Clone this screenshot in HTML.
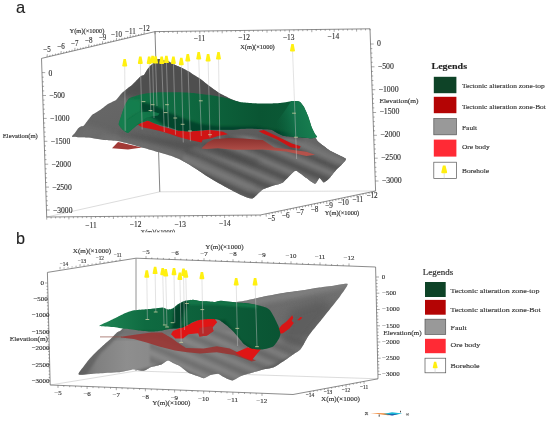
<!DOCTYPE html><html><head><meta charset="utf-8"><title>Figure</title>
<style>html,body{margin:0;padding:0;background:#fff}svg{display:block}text{font-family:"Liberation Serif",serif;fill:#333;stroke:#333;stroke-width:0.14px}</style></head><body>
<svg width="550" height="422" viewBox="0 0 550 422">
<defs>
<linearGradient id="gA" gradientUnits="userSpaceOnUse" x1="90" y1="70" x2="150" y2="200"><stop offset="0" stop-color="#6a6a6a"/><stop offset="0.5" stop-color="#636363"/><stop offset="1" stop-color="#5a5a5a"/></linearGradient>
<linearGradient id="gG" gradientUnits="userSpaceOnUse" x1="120" y1="0" x2="320" y2="0"><stop offset="0" stop-color="#117346"/><stop offset="0.35" stop-color="#0e683f"/><stop offset="0.7" stop-color="#0a5533"/><stop offset="1" stop-color="#0c5c38"/></linearGradient>
<linearGradient id="gGr" gradientUnits="userSpaceOnUse" x1="275" y1="120" x2="312" y2="112"><stop offset="0" stop-color="#0d6640" stop-opacity="0"/><stop offset="0.5" stop-color="#12724a"/><stop offset="1" stop-color="#187f50"/></linearGradient>
<linearGradient id="gGB" gradientUnits="userSpaceOnUse" x1="100" y1="0" x2="280" y2="0"><stop offset="0" stop-color="#1f8554"/><stop offset="0.25" stop-color="#0f6b41"/><stop offset="0.6" stop-color="#0c5f3a"/><stop offset="1" stop-color="#0a5433"/></linearGradient>
<linearGradient id="gB" gradientUnits="userSpaceOnUse" x1="78" y1="0" x2="350" y2="0"><stop offset="0" stop-color="#646464"/><stop offset="0.07" stop-color="#808080"/><stop offset="0.18" stop-color="#8e8e8e"/><stop offset="0.4" stop-color="#838383"/><stop offset="0.7" stop-color="#6c6c6c"/><stop offset="1" stop-color="#707070"/></linearGradient>
<linearGradient id="ridA" gradientUnits="userSpaceOnUse" x1="0" y1="0" x2="-5.8" y2="13.6" spreadMethod="repeat"><stop offset="0" stop-color="#7e7e7e"/><stop offset="0.5" stop-color="#4e4e4e"/><stop offset="1" stop-color="#7e7e7e"/></linearGradient>
<linearGradient id="ridB" gradientUnits="userSpaceOnUse" x1="0" y1="0" x2="-5" y2="11.5" spreadMethod="repeat"><stop offset="0" stop-color="#8c8c8c"/><stop offset="0.5" stop-color="#626262"/><stop offset="1" stop-color="#8c8c8c"/></linearGradient>
<linearGradient id="gDR" gradientUnits="userSpaceOnUse" x1="0" y1="138" x2="0" y2="152"><stop offset="0" stop-color="#8a302d"/><stop offset="1" stop-color="#b4524b"/></linearGradient>
<filter id="b1" x="-20%" y="-20%" width="140%" height="140%"><feGaussianBlur stdDeviation="1.2"/></filter>
<filter id="b2" x="-20%" y="-20%" width="140%" height="140%"><feGaussianBlur stdDeviation="2.5"/></filter>
<filter id="b3" x="-30%" y="-30%" width="160%" height="160%"><feGaussianBlur stdDeviation="5"/></filter>
<clipPath id="clipXa"><rect x="0" y="0" width="550" height="232.3"/></clipPath>
</defs>
<rect width="550" height="422" fill="#fff"/>
<g id="figA">
<path d="M159.8,191.8L375.6,191M159.8,191.8L46.7,217" stroke="#c4c4c4" stroke-width="0.6" fill="none"/>
<path d="M155,31.6L159.8,191.8" stroke="#666" stroke-width="0.8" fill="none"/>
<path d="M112,148.3L118,142L142,147.5L128,149.5Z" fill="#a23a36"/>
<clipPath id="cgA"><path d="M72.0,136.5C71.5,136.1 74.4,133.8 75.0,133.0C75.6,132.2 77.4,129.2 78.0,128.5C78.6,127.8 80.4,126.8 81.0,126.5C81.6,126.2 83.3,126.2 84.0,125.5C84.7,124.8 87.2,121.0 88.0,120.0C88.8,119.0 91.2,115.8 92.0,115.0C92.8,114.2 95.2,113.0 96.0,112.5C96.8,112.0 99.2,110.5 100.0,110.0C100.8,109.5 103.2,107.6 104.0,107.0C104.8,106.4 107.2,104.5 108.0,104.0C108.8,103.5 111.2,102.4 112.0,102.0C112.8,101.6 115.3,100.5 116.0,100.0C116.7,99.5 118.4,97.2 119.0,96.5C119.6,95.8 121.1,93.8 122.0,93.0C122.9,92.2 127.0,88.8 128.0,88.0C129.0,87.2 131.2,85.7 132.0,85.0C132.8,84.3 135.1,81.9 136.0,81.0C136.9,80.1 140.2,76.6 141.0,76.0C141.8,75.4 143.4,75.6 144.0,75.0C144.6,74.4 146.4,70.9 147.0,70.0C147.6,69.1 149.4,66.7 150.0,66.0C150.6,65.3 152.4,64.1 153.0,63.5C153.6,62.9 155.3,60.1 156.0,59.6C156.7,59.1 159.3,58.9 160.0,59.0C160.7,59.1 162.2,60.3 163.0,60.5C163.8,60.7 167.0,60.6 168.0,61.0C169.0,61.4 171.8,63.4 173.0,64.0C174.2,64.6 178.5,66.3 180.0,67.0C181.5,67.7 186.6,70.2 188.0,71.0C189.4,71.8 192.8,74.2 194.0,75.0C195.2,75.8 199.1,78.0 200.5,79.0C201.9,80.0 206.7,84.0 208.0,85.0C209.3,86.0 212.8,88.7 214.0,89.5C215.2,90.3 218.8,92.8 220.0,93.5C221.2,94.2 224.8,95.9 226.0,96.5C227.2,97.1 228.6,98.2 232.0,99.5C235.4,100.8 253.2,107.5 260.0,110.0C266.8,112.5 294.5,122.3 300.0,125.0C305.5,127.7 313.2,135.6 315.0,137.3C316.8,139.0 316.5,140.3 318.0,141.6C319.5,142.9 326.8,148.7 329.6,150.4C332.4,152.1 344.3,157.2 345.6,158.5C346.9,159.8 343.7,162.3 342.7,163.5C341.7,164.7 336.8,169.2 335.5,170.7C334.2,172.1 330.8,176.8 329.6,178.0C328.4,179.2 324.8,182.4 323.8,182.4C322.8,182.4 320.4,177.9 319.5,178.0C318.6,178.1 316.3,183.8 315.0,183.8C313.7,183.8 308.3,179.3 306.4,178.0C304.5,176.7 297.7,171.1 296.2,170.7C294.7,170.3 293.1,172.4 291.8,173.6C290.5,174.8 284.7,181.2 283.0,182.4C281.3,183.6 276.4,184.6 274.4,185.3C272.4,186.0 264.9,188.3 262.7,189.6C260.5,190.9 254.5,197.8 252.5,198.4C250.5,199.0 245.2,196.7 242.4,195.5C239.7,194.3 228.5,188.6 225.0,186.7C221.5,184.8 211.0,178.7 207.5,176.5C204.0,174.3 192.8,166.7 190.0,165.0C187.2,163.3 182.0,160.4 180.0,159.5C178.0,158.6 172.2,156.2 170.0,155.5C167.8,154.8 160.6,152.8 158.0,152.0C155.4,151.2 146.8,148.8 144.0,148.0C141.2,147.2 132.6,144.7 130.0,144.0C127.4,143.3 120.6,141.4 118.0,141.0C115.4,140.6 106.6,140.3 104.0,140.0C101.4,139.7 94.4,138.3 92.0,138.0C89.6,137.7 82.0,137.5 80.0,137.3C78.0,137.2 72.5,136.9 72.0,136.5Z"/></clipPath>
<path d="M72.0,136.5C71.5,136.1 74.4,133.8 75.0,133.0C75.6,132.2 77.4,129.2 78.0,128.5C78.6,127.8 80.4,126.8 81.0,126.5C81.6,126.2 83.3,126.2 84.0,125.5C84.7,124.8 87.2,121.0 88.0,120.0C88.8,119.0 91.2,115.8 92.0,115.0C92.8,114.2 95.2,113.0 96.0,112.5C96.8,112.0 99.2,110.5 100.0,110.0C100.8,109.5 103.2,107.6 104.0,107.0C104.8,106.4 107.2,104.5 108.0,104.0C108.8,103.5 111.2,102.4 112.0,102.0C112.8,101.6 115.3,100.5 116.0,100.0C116.7,99.5 118.4,97.2 119.0,96.5C119.6,95.8 121.1,93.8 122.0,93.0C122.9,92.2 127.0,88.8 128.0,88.0C129.0,87.2 131.2,85.7 132.0,85.0C132.8,84.3 135.1,81.9 136.0,81.0C136.9,80.1 140.2,76.6 141.0,76.0C141.8,75.4 143.4,75.6 144.0,75.0C144.6,74.4 146.4,70.9 147.0,70.0C147.6,69.1 149.4,66.7 150.0,66.0C150.6,65.3 152.4,64.1 153.0,63.5C153.6,62.9 155.3,60.1 156.0,59.6C156.7,59.1 159.3,58.9 160.0,59.0C160.7,59.1 162.2,60.3 163.0,60.5C163.8,60.7 167.0,60.6 168.0,61.0C169.0,61.4 171.8,63.4 173.0,64.0C174.2,64.6 178.5,66.3 180.0,67.0C181.5,67.7 186.6,70.2 188.0,71.0C189.4,71.8 192.8,74.2 194.0,75.0C195.2,75.8 199.1,78.0 200.5,79.0C201.9,80.0 206.7,84.0 208.0,85.0C209.3,86.0 212.8,88.7 214.0,89.5C215.2,90.3 218.8,92.8 220.0,93.5C221.2,94.2 224.8,95.9 226.0,96.5C227.2,97.1 228.6,98.2 232.0,99.5C235.4,100.8 253.2,107.5 260.0,110.0C266.8,112.5 294.5,122.3 300.0,125.0C305.5,127.7 313.2,135.6 315.0,137.3C316.8,139.0 316.5,140.3 318.0,141.6C319.5,142.9 326.8,148.7 329.6,150.4C332.4,152.1 344.3,157.2 345.6,158.5C346.9,159.8 343.7,162.3 342.7,163.5C341.7,164.7 336.8,169.2 335.5,170.7C334.2,172.1 330.8,176.8 329.6,178.0C328.4,179.2 324.8,182.4 323.8,182.4C322.8,182.4 320.4,177.9 319.5,178.0C318.6,178.1 316.3,183.8 315.0,183.8C313.7,183.8 308.3,179.3 306.4,178.0C304.5,176.7 297.7,171.1 296.2,170.7C294.7,170.3 293.1,172.4 291.8,173.6C290.5,174.8 284.7,181.2 283.0,182.4C281.3,183.6 276.4,184.6 274.4,185.3C272.4,186.0 264.9,188.3 262.7,189.6C260.5,190.9 254.5,197.8 252.5,198.4C250.5,199.0 245.2,196.7 242.4,195.5C239.7,194.3 228.5,188.6 225.0,186.7C221.5,184.8 211.0,178.7 207.5,176.5C204.0,174.3 192.8,166.7 190.0,165.0C187.2,163.3 182.0,160.4 180.0,159.5C178.0,158.6 172.2,156.2 170.0,155.5C167.8,154.8 160.6,152.8 158.0,152.0C155.4,151.2 146.8,148.8 144.0,148.0C141.2,147.2 132.6,144.7 130.0,144.0C127.4,143.3 120.6,141.4 118.0,141.0C115.4,140.6 106.6,140.3 104.0,140.0C101.4,139.7 94.4,138.3 92.0,138.0C89.6,137.7 82.0,137.5 80.0,137.3C78.0,137.2 72.5,136.9 72.0,136.5Z" fill="url(#gA)"/>
<g clip-path="url(#cgA)">
<path d="M185,150L230,135L330,140L360,160L330,200L240,215L180,170Z" fill="url(#ridA)" filter="url(#b1)" opacity="0.85"/>
<path d="M120,95L160,52L240,100L200,110Z" fill="#484848" filter="url(#b2)" opacity="0.8"/>
<path d="M68,140L84,124L100,128L120,136L120,142L90,139Z" fill="#707070" filter="url(#b2)" opacity="0.7"/>
<path d="M100,136L150,141L200,158L255,186L250,193L190,164L140,149L100,141Z" fill="#7a7a7a" filter="url(#b2)" opacity="0.55"/>
<path d="M120,132L170,140L215,146L260,160L255,166L200,152L150,143Z" fill="#484848" filter="url(#b2)" opacity="0.5"/>
<path d="M305,132L347,158L338,166L300,146Z" fill="#777" filter="url(#b2)" opacity="0.55"/>
</g>
<path d="M201.3,148.5L207.8,142.2L213.6,139.3L228.2,138.1L243,138.6L262.7,140L274.4,147.5L286,149L306.4,151.8L315,154.7L306.4,156L286,151.5L262.7,149.5L250,149.8L233.6,149.8L218,148.3L206.4,149Z" fill="url(#gDR)"/>
<path d="M137.6,124.4L147.8,120.5L160,126L176,130.5L190,131.5L210,130L223,131.7L228,134.2L218,136L210.4,138.5L202.7,139.8L201.5,142.4L190,140L178.7,137L170,134L160,131L150,128.8L142,127.3Z" fill="#d01414"/>
<path d="M258.7,131L263.8,130L276.5,136L291.8,143.6L300.7,146.2L299.4,148.7L290.5,147.2L276.5,139.3L262.5,133.3Z" fill="#cc1414"/>
<clipPath id="cgG"><path d="M118.7,124.4C118.5,123.2 120.1,119.2 120.5,118.0C120.9,116.8 122.0,113.3 122.5,112.0C123.0,110.7 124.5,106.0 125.0,105.0C125.5,104.0 126.6,102.1 127.0,101.5C127.4,100.9 128.3,99.1 128.9,98.6C129.5,98.1 132.2,97.1 133.0,96.8C133.8,96.5 136.1,95.8 137.0,95.5C137.9,95.2 140.8,94.4 141.8,94.2C142.8,94.0 145.9,93.5 147.0,93.3C148.1,93.1 151.4,92.8 152.7,92.7C154.0,92.6 158.5,92.3 160.0,92.3C161.5,92.2 166.2,92.2 168.0,92.2C169.8,92.2 176.2,92.3 178.0,92.3C179.8,92.3 183.8,92.5 185.5,92.6C187.2,92.7 193.2,93.1 195.0,93.3C196.8,93.5 201.5,94.0 203.0,94.2C204.5,94.4 208.7,94.8 210.0,95.0C211.3,95.2 214.7,95.7 216.0,95.9C217.3,96.1 221.7,97.0 223.0,97.3C224.3,97.6 227.3,98.3 229.0,98.8C230.7,99.3 237.9,101.6 240.0,102.0C242.1,102.4 248.0,102.8 250.0,103.0C252.0,103.2 258.0,103.5 260.0,103.6C262.0,103.6 268.0,103.6 270.0,103.5C272.0,103.4 278.3,103.2 280.0,103.0C281.7,102.8 285.8,102.2 287.0,102.0C288.2,101.8 291.1,101.1 292.0,101.0C292.9,100.9 295.2,100.9 296.0,101.0C296.8,101.1 299.2,101.4 300.0,102.0C300.8,102.6 303.2,105.6 304.0,107.0C304.8,108.4 307.2,113.9 308.0,116.0C308.8,118.1 311.3,126.2 312.0,128.0C312.7,129.8 314.5,133.1 315.0,134.0C315.5,134.9 317.3,136.6 317.0,137.0C316.7,137.4 312.9,138.1 312.0,138.2C311.1,138.3 309.6,138.1 308.0,138.0C306.4,137.9 298.4,137.2 296.0,137.0C293.6,136.8 285.8,136.3 284.0,136.0C282.2,135.7 279.2,134.1 278.0,133.5C276.8,132.9 273.2,130.4 272.0,130.0C270.8,129.6 267.2,129.4 266.0,129.3C264.8,129.2 261.6,129.1 260.0,129.0C258.4,128.9 252.0,128.6 250.0,128.6C248.0,128.6 241.9,128.9 240.0,129.0C238.1,129.1 232.9,129.7 231.0,129.8C229.1,129.9 223.0,129.8 221.0,129.8C219.0,129.8 212.9,129.7 210.7,129.8C208.5,129.9 201.2,130.3 199.0,130.5C196.8,130.7 191.0,131.3 189.0,131.3C187.0,131.3 180.6,130.9 178.7,130.5C176.8,130.1 171.9,128.1 170.0,127.5C168.1,127.0 161.6,125.5 160.0,125.0C158.4,124.5 154.8,123.4 153.6,123.0C152.4,122.6 149.1,120.7 147.8,120.7C146.5,120.7 142.2,122.5 141.0,123.0C139.8,123.5 137.2,125.2 136.2,126.0C135.2,126.8 131.9,129.8 131.0,130.5C130.1,131.2 128.3,133.1 127.5,133.0C126.7,132.9 123.9,130.9 123.0,130.0C122.1,129.1 119.0,125.6 118.7,124.4Z"/></clipPath>
<path d="M118.7,124.4C118.5,123.2 120.1,119.2 120.5,118.0C120.9,116.8 122.0,113.3 122.5,112.0C123.0,110.7 124.5,106.0 125.0,105.0C125.5,104.0 126.6,102.1 127.0,101.5C127.4,100.9 128.3,99.1 128.9,98.6C129.5,98.1 132.2,97.1 133.0,96.8C133.8,96.5 136.1,95.8 137.0,95.5C137.9,95.2 140.8,94.4 141.8,94.2C142.8,94.0 145.9,93.5 147.0,93.3C148.1,93.1 151.4,92.8 152.7,92.7C154.0,92.6 158.5,92.3 160.0,92.3C161.5,92.2 166.2,92.2 168.0,92.2C169.8,92.2 176.2,92.3 178.0,92.3C179.8,92.3 183.8,92.5 185.5,92.6C187.2,92.7 193.2,93.1 195.0,93.3C196.8,93.5 201.5,94.0 203.0,94.2C204.5,94.4 208.7,94.8 210.0,95.0C211.3,95.2 214.7,95.7 216.0,95.9C217.3,96.1 221.7,97.0 223.0,97.3C224.3,97.6 227.3,98.3 229.0,98.8C230.7,99.3 237.9,101.6 240.0,102.0C242.1,102.4 248.0,102.8 250.0,103.0C252.0,103.2 258.0,103.5 260.0,103.6C262.0,103.6 268.0,103.6 270.0,103.5C272.0,103.4 278.3,103.2 280.0,103.0C281.7,102.8 285.8,102.2 287.0,102.0C288.2,101.8 291.1,101.1 292.0,101.0C292.9,100.9 295.2,100.9 296.0,101.0C296.8,101.1 299.2,101.4 300.0,102.0C300.8,102.6 303.2,105.6 304.0,107.0C304.8,108.4 307.2,113.9 308.0,116.0C308.8,118.1 311.3,126.2 312.0,128.0C312.7,129.8 314.5,133.1 315.0,134.0C315.5,134.9 317.3,136.6 317.0,137.0C316.7,137.4 312.9,138.1 312.0,138.2C311.1,138.3 309.6,138.1 308.0,138.0C306.4,137.9 298.4,137.2 296.0,137.0C293.6,136.8 285.8,136.3 284.0,136.0C282.2,135.7 279.2,134.1 278.0,133.5C276.8,132.9 273.2,130.4 272.0,130.0C270.8,129.6 267.2,129.4 266.0,129.3C264.8,129.2 261.6,129.1 260.0,129.0C258.4,128.9 252.0,128.6 250.0,128.6C248.0,128.6 241.9,128.9 240.0,129.0C238.1,129.1 232.9,129.7 231.0,129.8C229.1,129.9 223.0,129.8 221.0,129.8C219.0,129.8 212.9,129.7 210.7,129.8C208.5,129.9 201.2,130.3 199.0,130.5C196.8,130.7 191.0,131.3 189.0,131.3C187.0,131.3 180.6,130.9 178.7,130.5C176.8,130.1 171.9,128.1 170.0,127.5C168.1,127.0 161.6,125.5 160.0,125.0C158.4,124.5 154.8,123.4 153.6,123.0C152.4,122.6 149.1,120.7 147.8,120.7C146.5,120.7 142.2,122.5 141.0,123.0C139.8,123.5 137.2,125.2 136.2,126.0C135.2,126.8 131.9,129.8 131.0,130.5C130.1,131.2 128.3,133.1 127.5,133.0C126.7,132.9 123.9,130.9 123.0,130.0C122.1,129.1 119.0,125.6 118.7,124.4Z" fill="url(#gG)"/>
<g clip-path="url(#cgG)">
<path d="M141,102L150,104L160,108L170,113L185,119L200,124L220,126.5L255,126.5L290,133L320,140L199,133L178,132L165,126L155,119L146,114L141,110Z" fill="#05402a" filter="url(#b1)" opacity="0.85"/>
<path d="M128.9,99L140.5,99.5L141.3,111.3L134.7,114.2L127.5,119.3L127.5,134L117,124.4L121,112L125,103Z" fill="#16804f" filter="url(#b1)" opacity="0.9"/>
<path d="M127.5,120L139,112.5L152.2,111.3L159.5,113.5L158,115.6L146.4,117.5L136.2,125L127.5,134Z" fill="#147a4b" opacity="0.9"/>
<path d="M270,131L284,112L292,100L302,100L320,140L296,138L284,137Z" fill="url(#gGr)"/>
</g>
</g>
<path d="M46.7,217L41.5,58.4L155,31.6L370,28.8L375.6,191L260.2,215L46.7,217" stroke="#666" stroke-width="0.75" fill="none"/>
<g id="figB">
<path d="M50.2,385L136,371L378,378.8" stroke="#c4c4c4" stroke-width="0.6" fill="none"/>
<path d="M136,258.5L136,371" stroke="#777" stroke-width="0.8" fill="none"/>
<clipPath id="cgB"><path d="M78.8,374.6C77.2,373.9 82.8,367.7 84.0,366.0C85.2,364.3 88.7,359.8 90.3,358.0C91.9,356.2 98.4,349.9 100.4,348.0C102.4,346.1 108.9,340.5 110.6,339.0C112.3,337.5 116.0,333.4 117.0,332.6C118.0,331.8 119.5,331.7 120.8,330.6C122.1,329.5 126.1,323.9 130.0,322.0C133.9,320.1 153.0,313.6 160.0,312.0C167.0,310.4 192.4,307.0 200.0,306.0C207.6,305.0 231.3,302.6 236.0,302.0C240.7,301.4 243.9,301.0 246.5,300.5C249.1,300.0 258.4,297.8 262.0,297.0C265.6,296.2 279.1,293.6 283.0,293.0C286.9,292.4 297.4,291.2 301.0,290.6C304.6,290.1 316.1,288.0 319.5,287.5C322.9,287.0 332.2,285.8 335.0,285.4C337.8,285.0 347.1,282.9 347.6,284.0C348.1,285.1 342.1,293.4 340.3,295.9C338.5,298.4 332.1,306.3 330.0,308.9C327.9,311.5 321.6,319.4 319.5,322.0C317.4,324.6 310.6,332.8 309.0,335.0C307.4,337.2 304.7,342.5 303.8,344.0C302.9,345.5 301.0,348.8 300.0,349.8C299.0,350.8 295.2,353.0 293.5,354.2C291.8,355.4 284.5,360.5 282.5,361.8C280.5,363.1 275.8,366.5 273.8,367.3C271.9,368.1 265.2,369.0 263.0,369.5C260.8,370.0 254.2,372.1 252.0,372.7C249.8,373.3 243.0,375.2 241.0,376.0C239.0,376.8 234.1,380.3 232.4,380.4C230.7,380.5 225.0,377.7 223.6,377.0C222.2,376.3 219.5,374.0 218.2,373.8C216.9,373.6 211.9,374.6 210.5,375.0C209.1,375.4 205.3,378.1 204.0,378.2C202.7,378.3 199.0,376.6 197.5,376.0C196.0,375.4 190.4,373.7 188.7,372.7C186.9,371.7 181.6,367.2 180.0,366.2C178.4,365.2 174.2,363.6 173.0,363.0C171.8,362.4 169.1,360.5 167.9,360.6C166.8,360.7 163.2,363.8 161.5,364.4C159.8,365.0 153.1,366.4 151.3,367.0C149.5,367.6 145.5,370.6 143.7,370.8C141.9,371.1 135.8,369.4 133.5,369.5C131.2,369.6 124.1,371.6 120.8,372.0C117.5,372.4 104.6,373.0 100.4,373.3C96.2,373.6 80.4,375.3 78.8,374.6Z"/></clipPath>
<path d="M78.8,374.6C77.2,373.9 82.8,367.7 84.0,366.0C85.2,364.3 88.7,359.8 90.3,358.0C91.9,356.2 98.4,349.9 100.4,348.0C102.4,346.1 108.9,340.5 110.6,339.0C112.3,337.5 116.0,333.4 117.0,332.6C118.0,331.8 119.5,331.7 120.8,330.6C122.1,329.5 126.1,323.9 130.0,322.0C133.9,320.1 153.0,313.6 160.0,312.0C167.0,310.4 192.4,307.0 200.0,306.0C207.6,305.0 231.3,302.6 236.0,302.0C240.7,301.4 243.9,301.0 246.5,300.5C249.1,300.0 258.4,297.8 262.0,297.0C265.6,296.2 279.1,293.6 283.0,293.0C286.9,292.4 297.4,291.2 301.0,290.6C304.6,290.1 316.1,288.0 319.5,287.5C322.9,287.0 332.2,285.8 335.0,285.4C337.8,285.0 347.1,282.9 347.6,284.0C348.1,285.1 342.1,293.4 340.3,295.9C338.5,298.4 332.1,306.3 330.0,308.9C327.9,311.5 321.6,319.4 319.5,322.0C317.4,324.6 310.6,332.8 309.0,335.0C307.4,337.2 304.7,342.5 303.8,344.0C302.9,345.5 301.0,348.8 300.0,349.8C299.0,350.8 295.2,353.0 293.5,354.2C291.8,355.4 284.5,360.5 282.5,361.8C280.5,363.1 275.8,366.5 273.8,367.3C271.9,368.1 265.2,369.0 263.0,369.5C260.8,370.0 254.2,372.1 252.0,372.7C249.8,373.3 243.0,375.2 241.0,376.0C239.0,376.8 234.1,380.3 232.4,380.4C230.7,380.5 225.0,377.7 223.6,377.0C222.2,376.3 219.5,374.0 218.2,373.8C216.9,373.6 211.9,374.6 210.5,375.0C209.1,375.4 205.3,378.1 204.0,378.2C202.7,378.3 199.0,376.6 197.5,376.0C196.0,375.4 190.4,373.7 188.7,372.7C186.9,371.7 181.6,367.2 180.0,366.2C178.4,365.2 174.2,363.6 173.0,363.0C171.8,362.4 169.1,360.5 167.9,360.6C166.8,360.7 163.2,363.8 161.5,364.4C159.8,365.0 153.1,366.4 151.3,367.0C149.5,367.6 145.5,370.6 143.7,370.8C141.9,371.1 135.8,369.4 133.5,369.5C131.2,369.6 124.1,371.6 120.8,372.0C117.5,372.4 104.6,373.0 100.4,373.3C96.2,373.6 80.4,375.3 78.8,374.6Z" fill="url(#gB)"/>
<g clip-path="url(#cgB)">
<path d="M150,335L215,330L300,335L320,330L300,360L230,390L150,375Z" fill="url(#ridB)" filter="url(#b1)" opacity="0.6"/>
<path d="M75,378L100,345L122,328L125,330L100,354L84,378Z" fill="#5a5a5a" filter="url(#b1)" opacity="0.6"/>
<path d="M240,300L350,280L352,286L300,297L250,306Z" fill="#858585" filter="url(#b2)" opacity="0.8"/>
<path d="M112,338L125,326L180,326L180,336L140,338Z" fill="#666" filter="url(#b2)" opacity="0.7"/>
<path d="M290,310L320,300L335,305L300,350L280,345Z" fill="#5a5a5a" filter="url(#b3)" opacity="0.8"/>
<path d="M76,377L135,371L170,362L205,380L235,382L300,352L300,358L235,388L76,382Z" fill="#585858" filter="url(#b1)" opacity="0.7"/>
</g>
<path d="M100,336.9H122" stroke="#8e5048" stroke-width="0.7" fill="none"/>
<path d="M121,336.7L136.3,334.4L151.6,332.6L162,332.5L168,336L172,338.2L177.5,342.5L186,348L203.6,348.5L216.7,346.3L229.8,348.5L238.5,352.8L256,360.5L251.6,361.5L234,355L216.7,352.3L200,353.5L187.2,352.2L175,350.5L159.2,346.5L146.5,342.5L133.8,339L121,337.4Z" fill="#9a3331" opacity="0.88"/>
<path d="M173,331L188.4,324.5L199.3,319.5L214.5,318.5L217.2,322.3L212.4,327.7L213.5,331L207,335.4L199.3,336.5L198.2,333.2L188.4,334.3L183,338.6L175.3,338.6L171,334.3Z" fill="#e01515"/>
<path d="M199,328L212,326L213.5,331L207,335.4L199.3,336.5Z" fill="#b82a2a"/>
<path d="M235.3,352.8L247.3,347.5L261.5,348.5L256,355L251.6,360.5L243,357.2Z" fill="#e01515"/>
<path d="M278.5,328.9L281.8,325.1L286.2,321.8L288.9,319.1L292.2,315.3L293.3,318L291.6,320.7L293.8,322.9L289.5,328.4L282.9,333.3L278,334ZM297.1,320.2L300.4,316.9L302.5,317.5L299.8,320.2Z" fill="#d81616"/>
<clipPath id="cgGB"><path d="M99.4,326.0C99.0,325.5 106.3,322.5 108.0,321.6C109.7,320.7 115.0,318.2 116.8,317.3C118.5,316.4 124.0,313.7 125.5,313.0C127.0,312.3 130.2,311.0 132.0,310.7C133.8,310.4 140.8,309.8 143.0,309.6C145.2,309.4 152.0,308.7 154.0,308.5C156.0,308.3 161.2,307.4 162.6,307.5C164.0,307.6 167.0,309.3 168.0,309.4C169.0,309.5 171.5,309.0 172.5,308.5C173.5,308.0 176.8,304.9 178.0,304.2C179.2,303.4 183.0,301.4 184.5,301.0C186.0,300.6 191.7,299.8 193.2,299.8C194.7,299.8 198.4,300.9 199.7,301.0C201.0,301.1 204.8,301.2 206.3,301.3C207.8,301.4 213.6,302.1 215.0,302.0C216.4,301.9 218.4,300.8 220.5,300.8C222.6,300.8 233.4,302.2 236.0,302.4C238.6,302.6 243.9,302.7 246.0,303.0C248.1,303.3 255.0,304.6 257.0,305.0C259.0,305.4 264.7,307.0 266.0,307.5C267.3,308.0 269.2,309.3 270.0,310.2C270.8,311.1 273.1,315.1 273.9,316.7C274.7,318.3 277.7,324.1 278.3,325.8C278.9,327.5 280.3,332.4 280.4,333.7C280.5,335.0 279.7,337.3 279.0,338.6C278.3,339.9 275.1,345.2 273.5,346.3C271.9,347.4 264.7,349.3 262.5,349.5C260.3,349.7 253.4,349.1 251.6,348.5C249.8,347.9 245.3,345.1 244.0,344.0C242.7,342.9 239.7,338.9 238.5,337.5C237.3,336.1 233.3,331.3 232.0,330.0C230.7,328.7 226.8,325.5 225.5,324.5C224.2,323.5 220.5,320.6 219.0,320.0C217.5,319.4 212.2,319.0 210.2,319.0C208.2,319.0 201.3,319.6 199.3,320.0C197.3,320.4 192.2,322.6 190.5,323.4C188.8,324.2 183.8,327.2 181.8,327.7C179.9,328.2 172.9,328.5 171.0,328.8C169.1,329.1 164.5,330.1 162.6,330.4C160.7,330.7 154.1,331.5 151.7,331.5C149.3,331.5 141.2,330.7 138.6,330.4C136.0,330.1 128.1,329.1 125.5,328.8C122.9,328.5 115.1,327.3 112.5,327.0C109.9,326.7 99.9,326.5 99.4,326.0Z"/></clipPath>
<path d="M99.4,326.0C99.0,325.5 106.3,322.5 108.0,321.6C109.7,320.7 115.0,318.2 116.8,317.3C118.5,316.4 124.0,313.7 125.5,313.0C127.0,312.3 130.2,311.0 132.0,310.7C133.8,310.4 140.8,309.8 143.0,309.6C145.2,309.4 152.0,308.7 154.0,308.5C156.0,308.3 161.2,307.4 162.6,307.5C164.0,307.6 167.0,309.3 168.0,309.4C169.0,309.5 171.5,309.0 172.5,308.5C173.5,308.0 176.8,304.9 178.0,304.2C179.2,303.4 183.0,301.4 184.5,301.0C186.0,300.6 191.7,299.8 193.2,299.8C194.7,299.8 198.4,300.9 199.7,301.0C201.0,301.1 204.8,301.2 206.3,301.3C207.8,301.4 213.6,302.1 215.0,302.0C216.4,301.9 218.4,300.8 220.5,300.8C222.6,300.8 233.4,302.2 236.0,302.4C238.6,302.6 243.9,302.7 246.0,303.0C248.1,303.3 255.0,304.6 257.0,305.0C259.0,305.4 264.7,307.0 266.0,307.5C267.3,308.0 269.2,309.3 270.0,310.2C270.8,311.1 273.1,315.1 273.9,316.7C274.7,318.3 277.7,324.1 278.3,325.8C278.9,327.5 280.3,332.4 280.4,333.7C280.5,335.0 279.7,337.3 279.0,338.6C278.3,339.9 275.1,345.2 273.5,346.3C271.9,347.4 264.7,349.3 262.5,349.5C260.3,349.7 253.4,349.1 251.6,348.5C249.8,347.9 245.3,345.1 244.0,344.0C242.7,342.9 239.7,338.9 238.5,337.5C237.3,336.1 233.3,331.3 232.0,330.0C230.7,328.7 226.8,325.5 225.5,324.5C224.2,323.5 220.5,320.6 219.0,320.0C217.5,319.4 212.2,319.0 210.2,319.0C208.2,319.0 201.3,319.6 199.3,320.0C197.3,320.4 192.2,322.6 190.5,323.4C188.8,324.2 183.8,327.2 181.8,327.7C179.9,328.2 172.9,328.5 171.0,328.8C169.1,329.1 164.5,330.1 162.6,330.4C160.7,330.7 154.1,331.5 151.7,331.5C149.3,331.5 141.2,330.7 138.6,330.4C136.0,330.1 128.1,329.1 125.5,328.8C122.9,328.5 115.1,327.3 112.5,327.0C109.9,326.7 99.9,326.5 99.4,326.0Z" fill="url(#gGB)"/>
<g clip-path="url(#cgGB)">
<path d="M174,309L180,303L186,300L188,304L184,312L180,328L172,330Z" fill="#053a25" filter="url(#b1)" opacity="0.8"/>
<path d="M105,330L160,332L200,322L225,320L240,340L255,350L240,350L225,325L200,325L160,336Z" fill="#063f28" filter="url(#b1)" opacity="0.7"/>
<path d="M186,299L215,300L257,304L257,308L215,305L190,305Z" fill="#167a4c" filter="url(#b1)" opacity="0.8"/>
</g>
</g>
<path d="M50.2,385L47.4,272.4L136,258.2L375.6,267L378,378.8L293,394.5L50.2,385" stroke="#666" stroke-width="0.75" fill="none"/>
<path d="M124.7,64.0L125.2,130.8" stroke="#c2c2c2" stroke-width="0.55" stroke-opacity="0.85" fill="none"/><path d="M123.5,59.0h2.4l1.2,6.2q0.2,1.2 -0.9,1.2h-3.0q-1.1,0 -0.9,-1.2z" fill="#fff010"/>
<path d="M140.3,61.5L142.2,129.5" stroke="#c2c2c2" stroke-width="0.55" stroke-opacity="0.85" fill="none"/><path d="M139.1,56.5h2.4l1.2,6.2q0.2,1.2 -0.9,1.2h-3.0q-1.1,0 -0.9,-1.2z" fill="#fff010"/>
<path d="M149.2,61.5L150.8,112.0" stroke="#c2c2c2" stroke-width="0.55" stroke-opacity="0.85" fill="none"/><path d="M148.0,56.5h2.4l1.2,6.2q0.2,1.2 -0.9,1.2h-3.0q-1.1,0 -0.9,-1.2z" fill="#fff010"/>
<path d="M152.6,60.7L154.0,118.0" stroke="#c2c2c2" stroke-width="0.55" stroke-opacity="0.85" fill="none"/><path d="M151.4,55.7h2.4l1.2,6.2q0.2,1.2 -0.9,1.2h-3.0q-1.1,0 -0.9,-1.2z" fill="#fff010"/>
<path d="M155.6,61.2L157.0,106.0" stroke="#c2c2c2" stroke-width="0.55" stroke-opacity="0.85" fill="none"/><path d="M154.4,56.2h2.4l1.2,6.2q0.2,1.2 -0.9,1.2h-3.0q-1.1,0 -0.9,-1.2z" fill="#fff010"/>
<path d="M161.7,61.5L164.3,132.0" stroke="#c2c2c2" stroke-width="0.55" stroke-opacity="0.85" fill="none"/><path d="M160.5,56.5h2.4l1.2,6.2q0.2,1.2 -0.9,1.2h-3.0q-1.1,0 -0.9,-1.2z" fill="#fff010"/>
<path d="M166.4,60.7L168.4,128.0" stroke="#c2c2c2" stroke-width="0.55" stroke-opacity="0.85" fill="none"/><path d="M165.2,55.7h2.4l1.2,6.2q0.2,1.2 -0.9,1.2h-3.0q-1.1,0 -0.9,-1.2z" fill="#fff010"/>
<path d="M173.4,61.5L175.5,134.7" stroke="#c2c2c2" stroke-width="0.55" stroke-opacity="0.85" fill="none"/><path d="M172.2,56.5h2.4l1.2,6.2q0.2,1.2 -0.9,1.2h-3.0q-1.1,0 -0.9,-1.2z" fill="#fff010"/>
<path d="M181.3,62.8L183.3,142.5" stroke="#c2c2c2" stroke-width="0.55" stroke-opacity="0.85" fill="none"/><path d="M180.1,57.8h2.4l1.2,6.2q0.2,1.2 -0.9,1.2h-3.0q-1.1,0 -0.9,-1.2z" fill="#fff010"/>
<path d="M187.8,59.0L190.4,141.2" stroke="#c2c2c2" stroke-width="0.55" stroke-opacity="0.85" fill="none"/><path d="M186.6,54.0h2.4l1.2,6.2q0.2,1.2 -0.9,1.2h-3.0q-1.1,0 -0.9,-1.2z" fill="#fff010"/>
<path d="M198.7,57.0L201.3,136.0" stroke="#c2c2c2" stroke-width="0.55" stroke-opacity="0.85" fill="none"/><path d="M197.5,52.0h2.4l1.2,6.2q0.2,1.2 -0.9,1.2h-3.0q-1.1,0 -0.9,-1.2z" fill="#fff010"/>
<path d="M208.1,59.0L210.0,137.3" stroke="#c2c2c2" stroke-width="0.55" stroke-opacity="0.85" fill="none"/><path d="M206.9,54.0h2.4l1.2,6.2q0.2,1.2 -0.9,1.2h-3.0q-1.1,0 -0.9,-1.2z" fill="#fff010"/>
<path d="M218.5,57.0L219.8,138.6" stroke="#c2c2c2" stroke-width="0.55" stroke-opacity="0.85" fill="none"/><path d="M217.3,52.0h2.4l1.2,6.2q0.2,1.2 -0.9,1.2h-3.0q-1.1,0 -0.9,-1.2z" fill="#fff010"/>
<path d="M292.5,49.0L296.6,159.0" stroke="#c2c2c2" stroke-width="0.55" stroke-opacity="0.85" fill="none"/><path d="M291.3,44.0h2.4l1.2,6.2q0.2,1.2 -0.9,1.2h-3.0q-1.1,0 -0.9,-1.2z" fill="#fff010"/>
<path d="M146.8,275.3L147.4,319.5" stroke="#c2c2c2" stroke-width="0.55" stroke-opacity="0.85" fill="none"/><path d="M145.6,270.3h2.4l1.2,6.2q0.2,1.2 -0.9,1.2h-3.0q-1.1,0 -0.9,-1.2z" fill="#fff010"/>
<path d="M155.1,271.7L155.8,312.0" stroke="#c2c2c2" stroke-width="0.55" stroke-opacity="0.85" fill="none"/><path d="M153.9,266.7h2.4l1.2,6.2q0.2,1.2 -0.9,1.2h-3.0q-1.1,0 -0.9,-1.2z" fill="#fff010"/>
<path d="M162.7,272.9L164.0,325.0" stroke="#c2c2c2" stroke-width="0.55" stroke-opacity="0.85" fill="none"/><path d="M161.5,267.9h2.4l1.2,6.2q0.2,1.2 -0.9,1.2h-3.0q-1.1,0 -0.9,-1.2z" fill="#fff010"/>
<path d="M165.7,274.1L167.0,327.0" stroke="#c2c2c2" stroke-width="0.55" stroke-opacity="0.85" fill="none"/><path d="M164.5,269.1h2.4l1.2,6.2q0.2,1.2 -0.9,1.2h-3.0q-1.1,0 -0.9,-1.2z" fill="#fff010"/>
<path d="M174.0,272.9L174.8,322.7" stroke="#c2c2c2" stroke-width="0.55" stroke-opacity="0.85" fill="none"/><path d="M172.8,267.9h2.4l1.2,6.2q0.2,1.2 -0.9,1.2h-3.0q-1.1,0 -0.9,-1.2z" fill="#fff010"/>
<path d="M179.9,277.6L181.2,342.0" stroke="#c2c2c2" stroke-width="0.55" stroke-opacity="0.85" fill="none"/><path d="M178.7,272.6h2.4l1.2,6.2q0.2,1.2 -0.9,1.2h-3.0q-1.1,0 -0.9,-1.2z" fill="#fff010"/>
<path d="M183.5,273.6L184.5,330.0" stroke="#c2c2c2" stroke-width="0.55" stroke-opacity="0.85" fill="none"/><path d="M182.3,268.6h2.4l1.2,6.2q0.2,1.2 -0.9,1.2h-3.0q-1.1,0 -0.9,-1.2z" fill="#fff010"/>
<path d="M185.8,275.3L187.0,326.0" stroke="#c2c2c2" stroke-width="0.55" stroke-opacity="0.85" fill="none"/><path d="M184.6,270.3h2.4l1.2,6.2q0.2,1.2 -0.9,1.2h-3.0q-1.1,0 -0.9,-1.2z" fill="#fff010"/>
<path d="M201.9,276.9L203.0,333.6" stroke="#c2c2c2" stroke-width="0.55" stroke-opacity="0.85" fill="none"/><path d="M200.7,271.9h2.4l1.2,6.2q0.2,1.2 -0.9,1.2h-3.0q-1.1,0 -0.9,-1.2z" fill="#fff010"/>
<path d="M236.2,283.1L237.6,346.0" stroke="#c2c2c2" stroke-width="0.55" stroke-opacity="0.85" fill="none"/><path d="M235.0,278.1h2.4l1.2,6.2q0.2,1.2 -0.9,1.2h-3.0q-1.1,0 -0.9,-1.2z" fill="#fff010"/>
<path d="M255.1,283.1L257.0,347.0" stroke="#c2c2c2" stroke-width="0.55" stroke-opacity="0.85" fill="none"/><path d="M253.9,278.1h2.4l1.2,6.2q0.2,1.2 -0.9,1.2h-3.0q-1.1,0 -0.9,-1.2z" fill="#fff010"/>
<path d="M141.6,101.6h3.8M150.7,104.7h3.8M165.1,104.7h3.8M163.7,112.6h3.8M180.7,124.3h3.8M198.9,100.8h3.8M208.1,134.7h3.8M148.6,110.5h3.8M173.4,118.0h3.8M188.1,131.0h3.8M292.1,113.2h3.8M294.1,137.2h3.8M145.5,319.5h3.8M162.9,325.0h3.8M165.1,327.0h3.8M170.6,322.7h3.8M179.3,342.4h3.8M185.1,303.5h3.8M200.4,309.6h3.8M235.4,328.4h3.8M255.1,346.7h3.8M153.8,312.0h3.8" stroke="#c9cfa0" stroke-width="0.8" fill="none"/>
<path d="M42.0,72.6l3.2,0.0M42.1,77.2l1.6,0.0M42.3,81.8l1.6,0.0M42.5,86.3l1.6,0.0M42.6,90.9l1.6,0.0M42.8,95.5l3.2,0.0M42.9,100.1l1.6,0.0M43.0,104.7l1.6,0.0M43.2,109.2l1.6,0.0M43.4,113.8l1.6,0.0M43.5,118.4l3.2,0.0M43.6,123.0l1.6,0.0M43.8,127.6l1.6,0.0M44.0,132.1l1.6,0.0M44.1,136.7l1.6,0.0M44.2,141.3l3.2,0.0M44.4,145.9l1.6,0.0M44.5,150.5l1.6,0.0M44.7,155.0l1.6,0.0M44.9,159.6l1.6,0.0M45.0,164.2l3.2,0.0M45.1,168.8l1.6,0.0M45.3,173.4l1.6,0.0M45.5,177.9l1.6,0.0M45.6,182.5l1.6,0.0M45.8,187.1l3.2,0.0M45.9,191.7l1.6,0.0M46.0,196.3l1.6,0.0M46.2,200.8l1.6,0.0M46.4,205.4l1.6,0.0M46.5,210.0l3.2,0.0" stroke="#555" stroke-width="0.5" fill="none"/>
<path d="M370.5,44.0l3.2,0.0M370.7,48.6l1.6,0.0M370.8,53.1l1.6,0.0M371.0,57.7l1.6,0.0M371.1,62.3l1.6,0.0M371.3,66.8l3.2,0.0M371.5,71.4l1.6,0.0M371.6,76.0l1.6,0.0M371.8,80.5l1.6,0.0M371.9,85.1l1.6,0.0M372.1,89.7l3.2,0.0M372.3,94.2l1.6,0.0M372.4,98.8l1.6,0.0M372.6,103.4l1.6,0.0M372.7,107.9l1.6,0.0M372.9,112.5l3.2,0.0M373.1,117.1l1.6,0.0M373.2,121.6l1.6,0.0M373.4,126.2l1.6,0.0M373.5,130.8l1.6,0.0M373.7,135.3l3.2,0.0M373.9,139.9l1.6,0.0M374.0,144.5l1.6,0.0M374.2,149.0l1.6,0.0M374.3,153.6l1.6,0.0M374.5,158.2l3.2,0.0M374.7,162.7l1.6,0.0M374.8,167.3l1.6,0.0M375.0,171.9l1.6,0.0M375.1,176.4l1.6,0.0M375.3,181.0l3.2,0.0" stroke="#555" stroke-width="0.5" fill="none"/>
<path d="M47.0,57.1l0.3,-2.8M49.8,56.4l0.2,-1.5M52.5,55.8l0.2,-1.5M55.3,55.1l0.2,-1.5M58.1,54.5l0.2,-1.5M60.9,53.8l0.3,-2.8M63.6,53.2l0.2,-1.5M66.4,52.5l0.2,-1.5M69.2,51.9l0.2,-1.5M71.9,51.2l0.2,-1.5M74.7,50.6l0.3,-2.8M77.5,49.9l0.2,-1.5M80.3,49.2l0.2,-1.5M83.0,48.6l0.2,-1.5M85.8,47.9l0.2,-1.5M88.6,47.3l0.3,-2.8M91.3,46.6l0.2,-1.5M94.1,46.0l0.2,-1.5M96.9,45.3l0.2,-1.5M99.7,44.7l0.2,-1.5M102.4,44.0l0.3,-2.8M105.2,43.4l0.2,-1.5M108.0,42.7l0.2,-1.5M110.7,42.1l0.2,-1.5M113.5,41.4l0.2,-1.5M116.3,40.7l0.3,-2.8M119.1,40.1l0.2,-1.5M121.8,39.4l0.2,-1.5M124.6,38.8l0.2,-1.5M127.4,38.1l0.2,-1.5M130.1,37.5l0.3,-2.8M132.9,36.8l0.2,-1.5M135.7,36.2l0.2,-1.5M138.5,35.5l0.2,-1.5M141.2,34.9l0.2,-1.5M144.0,34.2l0.3,-2.8" stroke="#555" stroke-width="0.5" fill="none"/>
<path d="M155.0,31.6l0.0,2.6M159.5,31.5l0.0,1.5M164.0,31.5l0.0,1.5M168.4,31.4l0.0,1.5M172.9,31.4l0.0,1.5M177.4,31.3l0.0,2.6M181.9,31.2l0.0,1.5M186.4,31.2l0.0,1.5M190.8,31.1l0.0,1.5M195.3,31.1l0.0,1.5M199.8,31.0l0.0,2.6M204.3,31.0l0.0,1.5M208.8,30.9l0.0,1.5M213.2,30.8l0.0,1.5M217.7,30.8l0.0,1.5M222.2,30.7l0.0,2.6M226.7,30.7l0.0,1.5M231.1,30.6l0.0,1.5M235.6,30.6l0.0,1.5M240.1,30.5l0.0,1.5M244.6,30.4l0.0,2.6M249.1,30.4l0.0,1.5M253.5,30.3l0.0,1.5M258.0,30.3l0.0,1.5M262.5,30.2l0.0,1.5M267.0,30.1l0.0,2.6M271.5,30.1l0.0,1.5M275.9,30.0l0.0,1.5M280.4,30.0l0.0,1.5M284.9,29.9l0.0,1.5M289.4,29.9l0.0,2.6M293.9,29.8l0.0,1.5M298.3,29.7l0.0,1.5M302.8,29.7l0.0,1.5M307.3,29.6l0.0,1.5M311.8,29.6l0.0,2.6M316.2,29.5l0.0,1.5M320.7,29.4l0.0,1.5M325.2,29.4l0.0,1.5M329.7,29.3l0.0,1.5M334.2,29.3l0.0,2.6M338.6,29.2l0.0,1.5M343.1,29.2l0.0,1.5M347.6,29.1l0.0,1.5M352.1,29.0l0.0,1.5M356.6,29.0l0.0,2.6M361.0,28.9l0.0,1.5M365.5,28.9l0.0,1.5M370.0,28.8l0.0,1.5" stroke="#555" stroke-width="0.5" fill="none"/>
<path d="M46.7,217.0l0.0,2.6M51.1,217.0l0.0,1.5M55.6,216.9l0.0,1.5M60.0,216.9l0.0,1.5M64.5,216.8l0.0,1.5M68.9,216.8l0.0,2.6M73.4,216.8l0.0,1.5M77.8,216.7l0.0,1.5M82.3,216.7l0.0,1.5M86.7,216.6l0.0,1.5M91.2,216.6l0.0,2.6M95.6,216.5l0.0,1.5M100.1,216.5l0.0,1.5M104.5,216.5l0.0,1.5M109.0,216.4l0.0,1.5M113.4,216.4l0.0,2.6M117.9,216.3l0.0,1.5M122.3,216.3l0.0,1.5M126.8,216.2l0.0,1.5M131.2,216.2l0.0,1.5M135.7,216.2l0.0,2.6M140.1,216.1l0.0,1.5M144.6,216.1l0.0,1.5M149.0,216.0l0.0,1.5M153.4,216.0l0.0,1.5M157.9,216.0l0.0,2.6M162.3,215.9l0.0,1.5M166.8,215.9l0.0,1.5M171.2,215.8l0.0,1.5M175.7,215.8l0.0,1.5M180.1,215.8l0.0,2.6M184.6,215.7l0.0,1.5M189.0,215.7l0.0,1.5M193.5,215.6l0.0,1.5M197.9,215.6l0.0,1.5M202.4,215.5l0.0,2.6M206.8,215.5l0.0,1.5M211.3,215.5l0.0,1.5M215.7,215.4l0.0,1.5M220.2,215.4l0.0,1.5M224.6,215.3l0.0,2.6M229.1,215.3l0.0,1.5M233.5,215.2l0.0,1.5M238.0,215.2l0.0,1.5M242.4,215.2l0.0,1.5M246.9,215.1l0.0,2.6M251.3,215.1l0.0,1.5M255.8,215.0l0.0,1.5M260.2,215.0l0.0,1.5" stroke="#555" stroke-width="0.5" fill="none"/>
<path d="M266.0,213.8l0.3,2.8M269.0,213.2l0.2,1.5M272.1,212.5l0.2,1.5M275.1,211.9l0.2,1.5M278.1,211.3l0.2,1.5M281.1,210.7l0.3,2.8M284.2,210.0l0.2,1.5M287.2,209.4l0.2,1.5M290.2,208.8l0.2,1.5M293.3,208.1l0.2,1.5M296.3,207.5l0.3,2.8M299.3,206.9l0.2,1.5M302.3,206.3l0.2,1.5M305.4,205.6l0.2,1.5M308.4,205.0l0.2,1.5M311.4,204.4l0.3,2.8M314.5,203.7l0.2,1.5M317.5,203.1l0.2,1.5M320.5,202.5l0.2,1.5M323.5,201.9l0.2,1.5M326.6,201.2l0.3,2.8M329.6,200.6l0.2,1.5M332.6,200.0l0.2,1.5M335.7,199.3l0.2,1.5M338.7,198.7l0.2,1.5M341.7,198.1l0.3,2.8M344.7,197.5l0.2,1.5M347.8,196.8l0.2,1.5M350.8,196.2l0.2,1.5M353.8,195.6l0.2,1.5M356.9,194.9l0.3,2.8M359.9,194.3l0.2,1.5M362.9,193.7l0.2,1.5M365.9,193.1l0.2,1.5M369.0,192.4l0.2,1.5M372.0,191.8l0.3,2.8" stroke="#555" stroke-width="0.5" fill="none"/>
<path d="M47.6,283.0l-2.6,0.0M47.7,286.3l-1.3,0.0M47.8,289.5l-1.3,0.0M47.9,292.8l-1.3,0.0M47.9,296.0l-1.3,0.0M48.0,299.3l-2.6,0.0M48.1,302.6l-1.3,0.0M48.2,305.8l-1.3,0.0M48.3,309.1l-1.3,0.0M48.4,312.3l-1.3,0.0M48.4,315.6l-2.6,0.0M48.5,318.9l-1.3,0.0M48.6,322.1l-1.3,0.0M48.7,325.4l-1.3,0.0M48.8,328.6l-1.3,0.0M48.9,331.9l-2.6,0.0M48.9,335.2l-1.3,0.0M49.0,338.4l-1.3,0.0M49.1,341.7l-1.3,0.0M49.2,344.9l-1.3,0.0M49.3,348.2l-2.6,0.0M49.4,351.5l-1.3,0.0M49.4,354.7l-1.3,0.0M49.5,358.0l-1.3,0.0M49.6,361.2l-1.3,0.0M49.7,364.5l-2.6,0.0M49.8,367.8l-1.3,0.0M49.9,371.0l-1.3,0.0M49.9,374.3l-1.3,0.0M50.0,377.5l-1.3,0.0M50.1,380.8l-2.6,0.0" stroke="#555" stroke-width="0.5" fill="none"/>
<path d="M376.0,277.0l3.0,0.0M376.1,280.2l1.5,0.0M376.1,283.5l1.5,0.0M376.2,286.8l1.5,0.0M376.3,290.0l1.5,0.0M376.3,293.2l3.0,0.0M376.4,296.5l1.5,0.0M376.5,299.8l1.5,0.0M376.5,303.0l1.5,0.0M376.6,306.2l1.5,0.0M376.7,309.5l3.0,0.0M376.7,312.8l1.5,0.0M376.8,316.0l1.5,0.0M376.9,319.2l1.5,0.0M376.9,322.5l1.5,0.0M377.0,325.8l3.0,0.0M377.1,329.0l1.5,0.0M377.1,332.2l1.5,0.0M377.2,335.5l1.5,0.0M377.3,338.8l1.5,0.0M377.3,342.0l3.0,0.0M377.4,345.2l1.5,0.0M377.5,348.5l1.5,0.0M377.5,351.8l1.5,0.0M377.6,355.0l1.5,0.0M377.7,358.2l3.0,0.0M377.7,361.5l1.5,0.0M377.8,364.8l1.5,0.0M377.9,368.0l1.5,0.0M377.9,371.2l1.5,0.0M378.0,374.5l3.0,0.0" stroke="#555" stroke-width="0.5" fill="none"/>
<path d="M60.0,269.3l0.1,-2.4M64.0,268.7l0.1,-1.3M68.0,268.2l0.1,-1.3M72.0,267.6l0.1,-1.3M76.0,267.0l0.1,-1.3M80.0,266.5l0.1,-2.4M84.0,265.9l0.1,-1.3M88.0,265.3l0.1,-1.3M92.0,264.8l0.1,-1.3M96.0,264.2l0.1,-1.3M100.0,263.6l0.1,-2.4M104.0,263.1l0.1,-1.3M108.0,262.5l0.1,-1.3M112.0,261.9l0.1,-1.3M116.0,261.4l0.1,-1.3M120.0,260.8l0.1,-2.4" stroke="#555" stroke-width="0.5" fill="none"/>
<path d="M146.0,258.7l0.0,-2.6M151.8,258.9l0.0,-1.4M157.6,259.1l0.0,-1.4M163.4,259.3l0.0,-1.4M169.2,259.5l0.0,-1.4M175.0,259.7l0.0,-2.6M180.8,260.0l0.0,-1.4M186.6,260.2l0.0,-1.4M192.4,260.4l0.0,-1.4M198.2,260.6l0.0,-1.4M204.0,260.8l0.0,-2.6M209.8,261.0l0.0,-1.4M215.6,261.2l0.0,-1.4M221.4,261.4l0.0,-1.4M227.2,261.6l0.0,-1.4M233.0,261.8l0.0,-2.6M238.8,262.0l0.0,-1.4M244.6,262.2l0.0,-1.4M250.4,262.5l0.0,-1.4M256.2,262.7l0.0,-1.4M262.0,262.9l0.0,-2.6M267.8,263.1l0.0,-1.4M273.6,263.3l0.0,-1.4M279.4,263.5l0.0,-1.4M285.2,263.7l0.0,-1.4M291.0,263.9l0.0,-2.6M296.8,264.1l0.0,-1.4M302.6,264.3l0.0,-1.4M308.4,264.5l0.0,-1.4M314.2,264.7l0.0,-1.4M320.0,265.0l0.0,-2.6M325.8,265.2l0.0,-1.4M331.6,265.4l0.0,-1.4M337.4,265.6l0.0,-1.4M343.2,265.8l0.0,-1.4M349.0,266.0l0.0,-2.6" stroke="#555" stroke-width="0.5" fill="none"/>
<path d="M58.0,385.3l0.0,2.6M63.8,385.5l0.0,1.4M69.7,385.8l0.0,1.4M75.5,386.0l0.0,1.4M81.3,386.2l0.0,1.4M87.1,386.4l0.0,2.6M93.0,386.7l0.0,1.4M98.8,386.9l0.0,1.4M104.6,387.1l0.0,1.4M110.5,387.4l0.0,1.4M116.3,387.6l0.0,2.6M122.1,387.8l0.0,1.4M127.9,388.0l0.0,1.4M133.8,388.3l0.0,1.4M139.6,388.5l0.0,1.4M145.4,388.7l0.0,2.6M151.3,389.0l0.0,1.4M157.1,389.2l0.0,1.4M162.9,389.4l0.0,1.4M168.7,389.6l0.0,1.4M174.6,389.9l0.0,2.6M180.4,390.1l0.0,1.4M186.2,390.3l0.0,1.4M192.1,390.6l0.0,1.4M197.9,390.8l0.0,1.4M203.7,391.0l0.0,2.6M209.5,391.2l0.0,1.4M215.4,391.5l0.0,1.4M221.2,391.7l0.0,1.4M227.0,391.9l0.0,1.4M232.9,392.2l0.0,2.6M238.7,392.4l0.0,1.4M244.5,392.6l0.0,1.4M250.3,392.8l0.0,1.4M256.2,393.1l0.0,1.4M262.0,393.3l0.0,2.6" stroke="#555" stroke-width="0.5" fill="none"/>
<path d="M310.0,391.4l0.1,2.4M313.6,390.7l0.1,1.3M317.2,390.1l0.1,1.3M320.8,389.4l0.1,1.3M324.4,388.7l0.1,1.3M328.0,388.1l0.1,2.4M331.6,387.4l0.1,1.3M335.2,386.7l0.1,1.3M338.8,386.1l0.1,1.3M342.4,385.4l0.1,1.3M346.0,384.7l0.1,2.4M349.6,384.1l0.1,1.3M353.2,383.4l0.1,1.3M356.8,382.7l0.1,1.3M360.4,382.1l0.1,1.3M364.0,381.4l0.1,2.4" stroke="#555" stroke-width="0.5" fill="none"/>
<text transform="translate(48.488524590163934,75.5) scale(1.02,1)" font-size="7.45" text-anchor="start" >0</text>
<text transform="translate(377.0075215782984,45.7) scale(1.08,1)" font-size="7.22" text-anchor="start" >0</text>
<text transform="translate(49.239344262295084,98.4) scale(1.02,1)" font-size="7.45" text-anchor="start" >−500</text>
<text transform="translate(377.79815043156594,68.6) scale(1.08,1)" font-size="7.22" text-anchor="start" >−500</text>
<text transform="translate(49.99016393442623,121.3) scale(1.02,1)" font-size="7.45" text-anchor="start" >−1000</text>
<text transform="translate(378.58877928483355,91.5) scale(1.08,1)" font-size="7.22" text-anchor="start" >−1000</text>
<text transform="translate(50.74098360655738,144.2) scale(1.02,1)" font-size="7.45" text-anchor="start" >−1500</text>
<text transform="translate(379.3794081381011,114.4) scale(1.08,1)" font-size="7.22" text-anchor="start" >−1500</text>
<text transform="translate(51.49180327868852,167.1) scale(1.02,1)" font-size="7.45" text-anchor="start" >−2000</text>
<text transform="translate(380.1700369913687,137.3) scale(1.08,1)" font-size="7.22" text-anchor="start" >−2000</text>
<text transform="translate(52.24262295081967,190.0) scale(1.02,1)" font-size="7.45" text-anchor="start" >−2500</text>
<text transform="translate(380.96066584463625,160.2) scale(1.08,1)" font-size="7.22" text-anchor="start" >−2500</text>
<text transform="translate(52.993442622950816,212.9) scale(1.02,1)" font-size="7.45" text-anchor="start" >−3000</text>
<text transform="translate(381.7512946979038,183.1) scale(1.08,1)" font-size="7.22" text-anchor="start" >−3000</text>
<text transform="translate(2.8,137.9) scale(1.2,1)" font-size="5.54" text-anchor="start" >Elevation(m)</text>
<text transform="translate(379.5,102.8) scale(1.1,1)" font-size="6.73" text-anchor="start" >Elevation(m)</text>
<text transform="translate(47.0,52.1) scale(0.92,1)" font-size="7.61" text-anchor="middle" >−5</text>
<text transform="translate(60.9,49.0) scale(0.92,1)" font-size="7.61" text-anchor="middle" >−6</text>
<text transform="translate(74.8,46.0) scale(0.92,1)" font-size="7.61" text-anchor="middle" >−7</text>
<text transform="translate(88.7,42.9) scale(0.92,1)" font-size="7.61" text-anchor="middle" >−8</text>
<text transform="translate(102.6,39.9) scale(0.92,1)" font-size="7.61" text-anchor="middle" >−9</text>
<text transform="translate(116.5,36.8) scale(0.92,1)" font-size="7.61" text-anchor="middle" >−10</text>
<text transform="translate(130.4,33.8) scale(0.92,1)" font-size="7.61" text-anchor="middle" >−11</text>
<text transform="translate(144.3,30.7) scale(0.92,1)" font-size="7.61" text-anchor="middle" >−12</text>
<text transform="translate(87,33.0) scale(1.2,1)" font-size="5.42" text-anchor="middle" >Y(m)(×1000)</text>
<text transform="translate(199.5,40.9) scale(0.97,1)" font-size="7.63" text-anchor="middle" >−11</text>
<text transform="translate(244.1,40.3) scale(0.97,1)" font-size="7.63" text-anchor="middle" >−12</text>
<text transform="translate(288.7,39.7) scale(0.97,1)" font-size="7.63" text-anchor="middle" >−13</text>
<text transform="translate(333.3,39.1) scale(0.97,1)" font-size="7.63" text-anchor="middle" >−14</text>
<text transform="translate(257.5,48.8) scale(1.22,1)" font-size="5.25" text-anchor="middle" >X(m)(×1000)</text>
<text transform="translate(91.0,228.1) scale(0.97,1)" font-size="7.63" text-anchor="middle" >−11</text>
<text transform="translate(135.6,227.3) scale(0.97,1)" font-size="7.63" text-anchor="middle" >−12</text>
<text transform="translate(180.2,226.5) scale(0.97,1)" font-size="7.63" text-anchor="middle" >−13</text>
<text transform="translate(224.8,225.7) scale(0.97,1)" font-size="7.63" text-anchor="middle" >−14</text>
<g clip-path="url(#clipXa)">
<text transform="translate(157.8,233.6) scale(1.22,1)" font-size="5.25" text-anchor="middle" >X(m)(×1000)</text>
</g>
<text transform="translate(271.3,221.4) scale(1.0,1)" font-size="7.2" text-anchor="middle" >−5</text>
<text transform="translate(285.7,218.1) scale(1.0,1)" font-size="7.2" text-anchor="middle" >−6</text>
<text transform="translate(300.1,214.8) scale(1.0,1)" font-size="7.2" text-anchor="middle" >−7</text>
<text transform="translate(314.5,211.5) scale(1.0,1)" font-size="7.2" text-anchor="middle" >−8</text>
<text transform="translate(328.90000000000003,208.2) scale(1.0,1)" font-size="7.2" text-anchor="middle" >−9</text>
<text transform="translate(343.3,204.9) scale(1.0,1)" font-size="7.2" text-anchor="middle" >−10</text>
<text transform="translate(357.70000000000005,201.6) scale(1.0,1)" font-size="7.2" text-anchor="middle" >−11</text>
<text transform="translate(372.1,198.3) scale(1.0,1)" font-size="7.2" text-anchor="middle" >−12</text>
<text transform="translate(342,215.2) scale(1.22,1)" font-size="5.25" text-anchor="middle" >Y(m)(×1000)</text>
<text transform="translate(42.3,284.7) scale(1.14,1)" font-size="6.14" text-anchor="middle" >0</text>
<text transform="translate(381.8,279.0) scale(1.14,1)" font-size="6.05" text-anchor="start" >0</text>
<text transform="translate(40.6,301.1) scale(1.14,1)" font-size="6.14" text-anchor="middle" >−500</text>
<text transform="translate(382.1,295.2) scale(1.14,1)" font-size="6.05" text-anchor="start" >−500</text>
<text transform="translate(40.6,317.4) scale(1.14,1)" font-size="6.14" text-anchor="middle" >−1000</text>
<text transform="translate(382.1,311.4) scale(1.14,1)" font-size="6.05" text-anchor="start" >−1000</text>
<text transform="translate(40.6,333.8) scale(1.14,1)" font-size="6.14" text-anchor="middle" >−1500</text>
<text transform="translate(382.1,327.6) scale(1.14,1)" font-size="6.05" text-anchor="start" >−1500</text>
<text transform="translate(40.6,350.1) scale(1.14,1)" font-size="6.14" text-anchor="middle" >−2000</text>
<text transform="translate(382.1,343.8) scale(1.14,1)" font-size="6.05" text-anchor="start" >−2000</text>
<text transform="translate(40.6,366.5) scale(1.14,1)" font-size="6.14" text-anchor="middle" >−2500</text>
<text transform="translate(382.1,360.0) scale(1.14,1)" font-size="6.05" text-anchor="start" >−2500</text>
<text transform="translate(40.6,382.8) scale(1.14,1)" font-size="6.14" text-anchor="middle" >−3000</text>
<text transform="translate(382.1,376.2) scale(1.14,1)" font-size="6.05" text-anchor="start" >−3000</text>
<text transform="translate(9.8,340.9) scale(1.14,1)" font-size="6.36" text-anchor="start" >Elevation(m)</text>
<text transform="translate(383.2,334.5) scale(1.14,1)" font-size="6.4" text-anchor="start" >Elevation(m)</text>
<text transform="translate(64.0,265.6) scale(0.86,1)" font-size="6.16" text-anchor="middle" >−14</text>
<text transform="translate(81.9,262.6) scale(0.86,1)" font-size="6.16" text-anchor="middle" >−13</text>
<text transform="translate(99.8,259.6) scale(0.86,1)" font-size="6.16" text-anchor="middle" >−12</text>
<text transform="translate(117.69999999999999,256.6) scale(0.86,1)" font-size="6.16" text-anchor="middle" >−11</text>
<text transform="translate(92,252.9) scale(1.14,1)" font-size="6.23" text-anchor="middle" >X(m)(×1000)</text>
<text transform="translate(146,253.8) scale(1.14,1)" font-size="6.05" text-anchor="middle" >−5</text>
<text transform="translate(175,254.7) scale(1.14,1)" font-size="6.05" text-anchor="middle" >−6</text>
<text transform="translate(204,255.5) scale(1.14,1)" font-size="6.05" text-anchor="middle" >−7</text>
<text transform="translate(233,256.4) scale(1.14,1)" font-size="6.05" text-anchor="middle" >−8</text>
<text transform="translate(262,257.2) scale(1.14,1)" font-size="6.05" text-anchor="middle" >−9</text>
<text transform="translate(291,258.1) scale(1.14,1)" font-size="6.05" text-anchor="middle" >−10</text>
<text transform="translate(320,258.9) scale(1.14,1)" font-size="6.05" text-anchor="middle" >−11</text>
<text transform="translate(349,259.8) scale(1.14,1)" font-size="6.05" text-anchor="middle" >−12</text>
<text transform="translate(224.5,248.9) scale(1.14,1)" font-size="6.23" text-anchor="middle" >Y(m)(×1000)</text>
<text transform="translate(58.0,395.1) scale(1.14,1)" font-size="6.05" text-anchor="middle" >−5</text>
<text transform="translate(87.1,396.3) scale(1.14,1)" font-size="6.05" text-anchor="middle" >−6</text>
<text transform="translate(116.2,397.4) scale(1.14,1)" font-size="6.05" text-anchor="middle" >−7</text>
<text transform="translate(145.3,398.6) scale(1.14,1)" font-size="6.05" text-anchor="middle" >−8</text>
<text transform="translate(174.4,399.7) scale(1.14,1)" font-size="6.05" text-anchor="middle" >−9</text>
<text transform="translate(203.5,400.9) scale(1.14,1)" font-size="6.05" text-anchor="middle" >−10</text>
<text transform="translate(232.60000000000002,402.0) scale(1.14,1)" font-size="6.05" text-anchor="middle" >−11</text>
<text transform="translate(261.70000000000005,403.2) scale(1.14,1)" font-size="6.05" text-anchor="middle" >−12</text>
<text transform="translate(171.3,405.4) scale(1.14,1)" font-size="6.23" text-anchor="middle" >Y(m)(×1000)</text>
<text transform="translate(310,396.6) scale(0.88,1)" font-size="6.14" text-anchor="middle" >−14</text>
<text transform="translate(328,394.1) scale(0.88,1)" font-size="6.14" text-anchor="middle" >−13</text>
<text transform="translate(346,391.6) scale(0.88,1)" font-size="6.14" text-anchor="middle" >−12</text>
<text transform="translate(364,389.1) scale(0.88,1)" font-size="6.14" text-anchor="middle" >−11</text>
<text transform="translate(340.5,400.7) scale(1.14,1)" font-size="6.32" text-anchor="middle" >X(m)(×1000)</text>
<text transform="translate(431.5,68.6) scale(1.08,1)" font-size="9.26" text-anchor="start" font-weight="bold" style="fill:#222">Legends</text>
<rect x="433.8" y="76.8" width="22.6" height="16.4" fill="#0e4327"/>
<text transform="translate(462,88.4) scale(1.14,1)" font-size="6.49" text-anchor="start" style="fill:#3a3a3a">Tectonic alteration zone-top</text>
<rect x="433.8" y="96.8" width="22.6" height="16.4" fill="#b40404"/>
<text transform="translate(462,108.8) scale(1.14,1)" font-size="6.49" text-anchor="start" style="fill:#3a3a3a">Tectonic alteration zone-Bot</text>
<rect x="433.8" y="118.6" width="22.6" height="16.2" fill="#999999" stroke="#555" stroke-width="0.7"/>
<text transform="translate(462,129.6) scale(1.14,1)" font-size="6.49" text-anchor="start" style="fill:#3a3a3a">Fault</text>
<rect x="433.8" y="139.6" width="22.6" height="17" fill="#ff2a35"/>
<text transform="translate(462,149.3) scale(1.14,1)" font-size="6.49" text-anchor="start" style="fill:#3a3a3a">Ore body</text>
<rect x="433.8" y="162.2" width="22.6" height="16.4" fill="#ffffff" stroke="#555" stroke-width="0.7"/>
<text transform="translate(462,173.3) scale(1.14,1)" font-size="6.49" text-anchor="start" style="fill:#3a3a3a">Borehole</text>
<path d="M444.2,173.1V178.6" stroke="#c8c8c8" stroke-width="0.6"/>
<path d="M442.9,165.6h2.6l1.6,6.4q0.2,1.2 -1.0,1.2h-3.8q-1.2,0 -1.0,-1.2z" fill="#ffee10"/>
<text transform="translate(422.7,274.8) scale(1.08,1)" font-size="8.33" text-anchor="start" font-weight="normal" style="fill:#222">Legends</text>
<rect x="425" y="282" width="20.7" height="15" fill="#0e4327"/>
<text transform="translate(450.5,292.5) scale(1.14,1)" font-size="6.97" text-anchor="start" style="fill:#3a3a3a">Tectonic alteration zone-top</text>
<rect x="425" y="299.9" width="20.7" height="14.8" fill="#b40404"/>
<text transform="translate(450.5,311.6) scale(1.14,1)" font-size="6.97" text-anchor="start" style="fill:#3a3a3a">Tectonic alteration zone-Bot</text>
<rect x="425" y="319.2" width="20.7" height="15.2" fill="#999999" stroke="#555" stroke-width="0.7"/>
<text transform="translate(450.5,329.8) scale(1.14,1)" font-size="6.97" text-anchor="start" style="fill:#3a3a3a">Fault</text>
<rect x="425" y="338.8" width="20.7" height="14.4" fill="#ff2a35"/>
<text transform="translate(450.5,346.7) scale(1.14,1)" font-size="6.97" text-anchor="start" style="fill:#3a3a3a">Ore body</text>
<rect x="425" y="358.2" width="20.7" height="14.6" fill="#ffffff" stroke="#555" stroke-width="0.7"/>
<text transform="translate(450.5,367.8) scale(1.14,1)" font-size="6.97" text-anchor="start" style="fill:#3a3a3a">Borehole</text>
<path d="M435.1,368.2V372.8" stroke="#c8c8c8" stroke-width="0.6"/>
<path d="M434.0,361.8h2.2l1.4,5.4q0.2,1.0 -0.8,1.0h-3.2q-1.0,0 -0.8,-1.0z" fill="#ffee10"/>
<path d="M370.4,412.9L401,413.8L388,415.3Z" fill="#f07a20"/><path d="M383.4,414L392,412.2L402.3,413.6L393,415.2Z" fill="#19b8d8"/><path d="M386,414.6L398,414.2L392,415.6Z" fill="#1a3a9a"/>
<path d="M379.2,414.5v2.2M400.5,410.8v1.6" stroke="#333" stroke-width="0.9"/>
<text x="0" y="0" font-size="4.2" transform="translate(367.6,415.2) rotate(-90)" style="fill:#333">N</text>
<text x="0" y="0" font-size="4.2" transform="translate(406.2,413.2) rotate(90)" style="fill:#333">S</text>
<text x="16" y="13.1" font-size="16.5" style="font-family:'Liberation Sans',sans-serif;fill:#222">a</text>
<text x="16" y="243.6" font-size="16.2" style="font-family:'Liberation Sans',sans-serif;fill:#222">b</text>
</svg></body></html>
